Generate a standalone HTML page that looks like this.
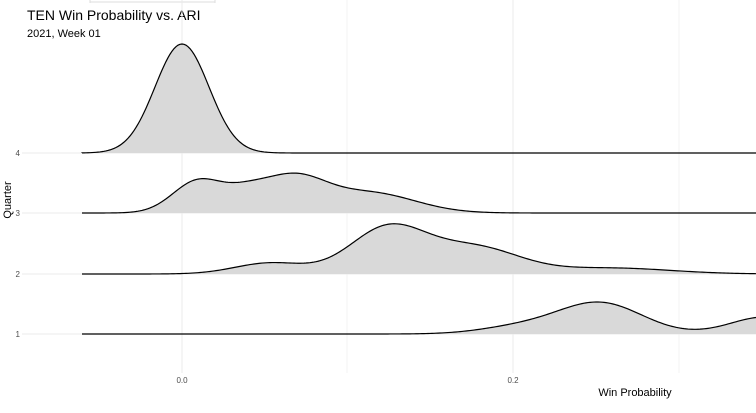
<!DOCTYPE html><html><head><style>
html,body{margin:0;padding:0;background:#fff;width:756px;height:413px;overflow:hidden;font-family:"Liberation Sans",sans-serif}
</style></head><body>
<svg id="s" width="756" height="413" xmlns="http://www.w3.org/2000/svg">
<line x1="90" y1="2" x2="215" y2="2" stroke="#ddd"/>
<line x1="90" y1="0" x2="90" y2="3" stroke="#ddd"/>
<line x1="215" y1="0" x2="215" y2="3" stroke="#ddd"/>
<text x="27" y="20" font-size="14" fill="#000">TEN Win Probability vs. ARI</text>
<text x="27" y="37" font-size="11" fill="#000">2021, Week 01</text>
<g stroke="#ebebeb" stroke-width="1">
<line x1="182" y1="0" x2="182" y2="373"/><line x1="513" y1="0" x2="513" y2="373"/>
<line x1="347" y1="0" x2="347" y2="373" stroke-width="0.6"/><line x1="679" y1="0" x2="679" y2="373" stroke-width="0.6"/>
<line x1="22" y1="153" x2="756" y2="153"/><line x1="22" y1="213" x2="756" y2="213"/>
<line x1="22" y1="274" x2="756" y2="274"/><line x1="22" y1="334" x2="756" y2="334"/>
</g>
<g font-size="8" fill="#4d4d4d">
<text x="20" y="156" text-anchor="end">4</text><text x="20" y="216" text-anchor="end">3</text>
<text x="20" y="277" text-anchor="end">2</text><text x="20" y="337" text-anchor="end">1</text>
<text x="182" y="383" text-anchor="middle">0.0</text><text x="513" y="383" text-anchor="middle">0.2</text>
</g>
<text x="635" y="396" font-size="11" text-anchor="middle">Win Probability</text>
<text transform="translate(11,200) rotate(-90)" font-size="11" text-anchor="middle">Quarter</text>
<g id="r"></g>
</svg>
<script>
function g(x,c,h,s){return h*Math.exp(-((x-c)*(x-c))/(2*s*s));}
var ridges=[
 [153,function(x){return g(x,182,109,27);}],
 [213,function(x){return g(x,198,32,25)+g(x,245,14,22)+g(x,292,34,32)+g(x,370,20,45);}],
 [274,function(x){return g(x,270,11,35)+g(x,388,46,38)+g(x,475,26,44)+g(x,610,6,60);}],
 [334,function(x){return g(x,600,31,42)+g(x,765,17,35)+g(x,520,7,40);}]
];
var out="";
ridges.forEach(function(r){
 var b=r[0],f=r[1],d="M82 "+b;
 for(var x=82;x<=756;x+=2){d+=" L"+x+" "+(b-f(x)).toFixed(2);}
 out+='<path d="'+d+' L756 '+b+' Z" fill="#d9d9d9" stroke="none"/>';
 out+='<path d="'+d+'" fill="none" stroke="#000" stroke-width="1.2"/>';
});
document.getElementById("r").innerHTML=out;
</script>
</body></html>
